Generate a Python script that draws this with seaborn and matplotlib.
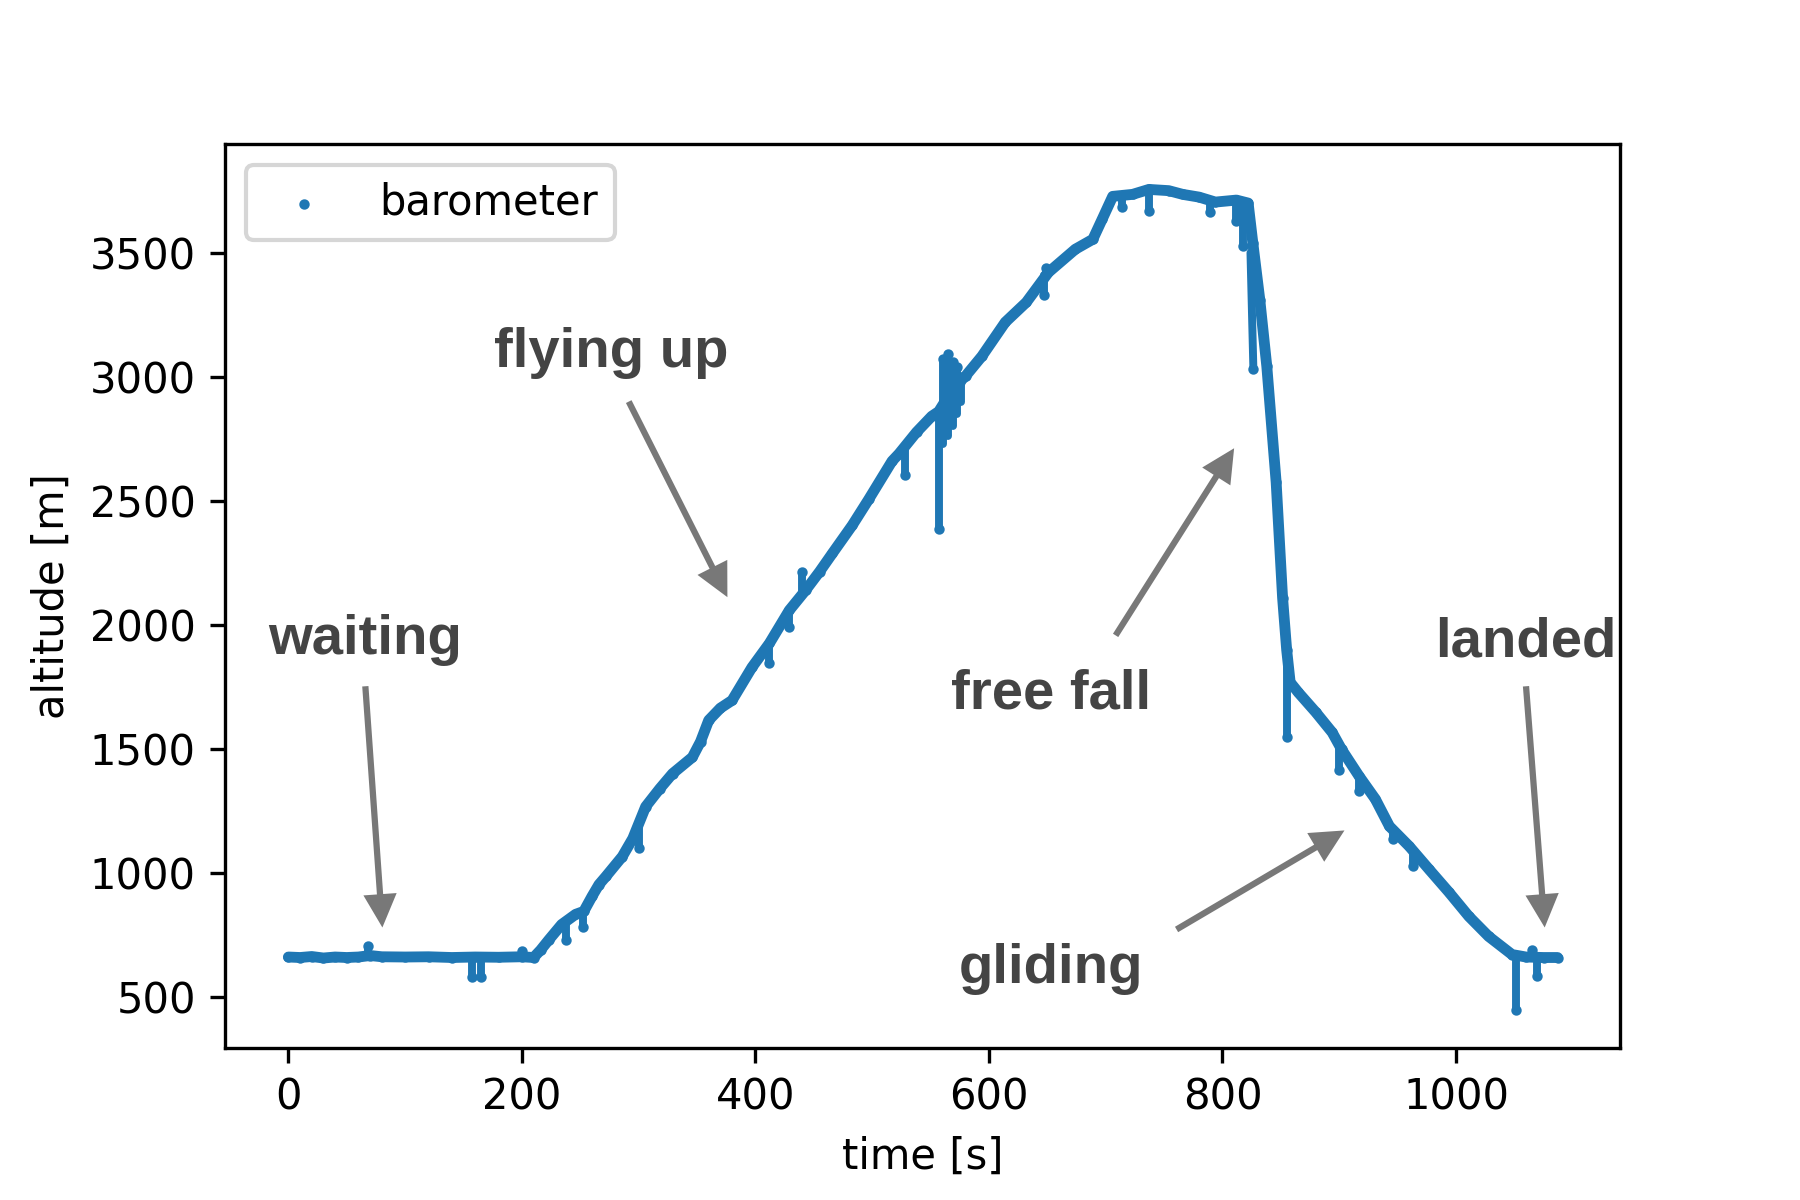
import matplotlib
matplotlib.use("Agg")
import matplotlib.pyplot as plt
import seaborn as sns
import pandas as pd

# ---- data ----
trace_t = [0, 10, 20, 30, 40, 50, 60, 70, 80, 100, 120, 140, 160, 180, 200, 210,
           216, 223, 234, 246, 253, 260, 266, 272, 286, 295, 306, 318, 329, 346,
           353, 360, 370, 380, 397, 412, 429, 443, 455, 466, 483, 497, 517, 523,
           538, 551, 557, 565, 575, 580, 594, 614, 632, 651, 674, 689, 697, 706,
           723, 737, 754, 766, 780, 794, 812, 822, 826, 832, 838, 846, 851.5, 855,
           858, 865, 880, 894, 902, 917, 931, 943, 960, 977, 994, 1011, 1028, 1048,
           1060, 1075, 1087]
trace_alt = [662, 660, 664, 658, 662, 660, 662, 668, 663, 662, 663, 660, 662, 661, 663, 660,
             690, 731, 793, 834, 846, 906, 954, 987, 1067, 1140, 1268, 1340, 1401, 1467,
             1530, 1616, 1665, 1696, 1829, 1926, 2059, 2140, 2215, 2289, 2402, 2506, 2660, 2690,
             2777, 2841, 2860, 2920, 2980, 3003, 3083, 3220, 3300, 3421, 3514, 3554, 3635, 3727,
             3735, 3755, 3750, 3735, 3724, 3704, 3712, 3700, 3540, 3310, 3042, 2575, 2110, 1900,
             1769, 1728, 1648, 1567, 1499, 1391, 1298, 1189, 1108, 1015, 923, 826, 745, 672,
             662, 660, 660]

# spikes (outlier streaks): start point on the trace -> tip
spike_t0 = [68, 157, 165, 200, 238, 252, 300, 412, 429, 440, 528, 557, 561, 565, 569, 573, 576,
            647, 649, 714, 737, 789, 812, 818, 824, 855, 900, 917, 946, 963, 1051, 1065, 1069]
spike_a0 = [664, 662, 662, 663, 805, 844, 1200, 1926, 2059, 2125, 2720, 2860, 2730, 2760, 2800, 2850, 2900,
            3410, 3420, 3731, 3755, 3712, 3712, 3705, 3500, 1900, 1499, 1391, 1170, 1094, 667, 660, 660]
spike_t1 = [68, 157, 165, 200, 238, 252, 300, 412, 429, 440, 528, 557, 561, 565, 569, 573, 576,
            647, 649, 714, 737, 789, 812, 818, 826.5, 855, 900, 917, 946, 963, 1051, 1065, 1069]
spike_a1 = [705, 583, 583, 685, 731, 781, 1100, 1845, 1993, 2215, 2606, 2385, 3070, 3090, 3060, 3040, 3000,
            3330, 3440, 3686, 3667, 3663, 3626, 3525, 3030, 1550, 1417, 1330, 1136, 1027, 450, 690, 584]

labels = ["waiting", "flying up", "free fall", "gliding", "landed"]
label_t = [65.4, 276.5, 653, 653.5, 1060]
label_alt = [1882, 3039, 1664, 559, 1873]
arrow_tail_t = [65.9, 291.5, 708.5, 760.7, 1060]
arrow_tail_alt = [1753, 2900, 1958, 773, 1753]
arrow_tip_t = [80.5, 376, 810, 904.5, 1076]
arrow_tip_alt = [781, 2112, 2712, 1172, 781]

trace = pd.DataFrame({"t": trace_t, "alt": trace_alt})
n = len(spike_t0)
spikes = pd.DataFrame({
    "seg": list(range(n)) * 2,
    "t": spike_t0 + spike_t1,
    "alt": spike_a0 + spike_a1,
})
points = pd.DataFrame({"t": trace_t + spike_t1, "alt": trace_alt + spike_a1})

blue = "#1f77b4"
fig, ax = plt.subplots(figsize=(6, 4), dpi=300)
fig.subplots_adjust(left=0.125, right=0.9, top=0.88, bottom=0.127)

sns.lineplot(data=trace, x="t", y="alt", ax=ax, color=blue, lw=2.6,
             estimator=None, sort=False, solid_capstyle="round", solid_joinstyle="round")
sns.lineplot(data=spikes, x="t", y="alt", units="seg", ax=ax, color=blue, lw=1.9,
             estimator=None, sort=False, solid_capstyle="round")
sns.scatterplot(data=points, x="t", y="alt", ax=ax, color=blue, s=1,
                linewidth=1.5, edgecolor="face", label="barometer", zorder=3)

ax.set_xlim(-54.3, 1140.5)
ax.set_ylim(297, 3938)
ax.set_xticks([0, 200, 400, 600, 800, 1000])
ax.set_yticks([500, 1000, 1500, 2000, 2500, 3000, 3500])
ax.set_xlabel("time [s]")
ax.set_ylabel("altitude [m]")
ax.legend(loc="upper left")

for lab, lt, la, tt, ta, pt, pa in zip(labels, label_t, label_alt, arrow_tail_t,
                                       arrow_tail_alt, arrow_tip_t, arrow_tip_alt):
    ax.annotate("", xy=(pt, pa), xytext=(tt, ta),
                arrowprops=dict(facecolor="#787878", edgecolor="none",
                                width=1.5, headwidth=8, headlength=8, shrink=0))
    ax.text(lt, la, lab, ha="center", va="baseline", fontsize=13.5,
            fontweight="bold", color="#444444",
            family=["Liberation Sans", "DejaVu Sans"])

fig.savefig("out.png", dpi=300)
